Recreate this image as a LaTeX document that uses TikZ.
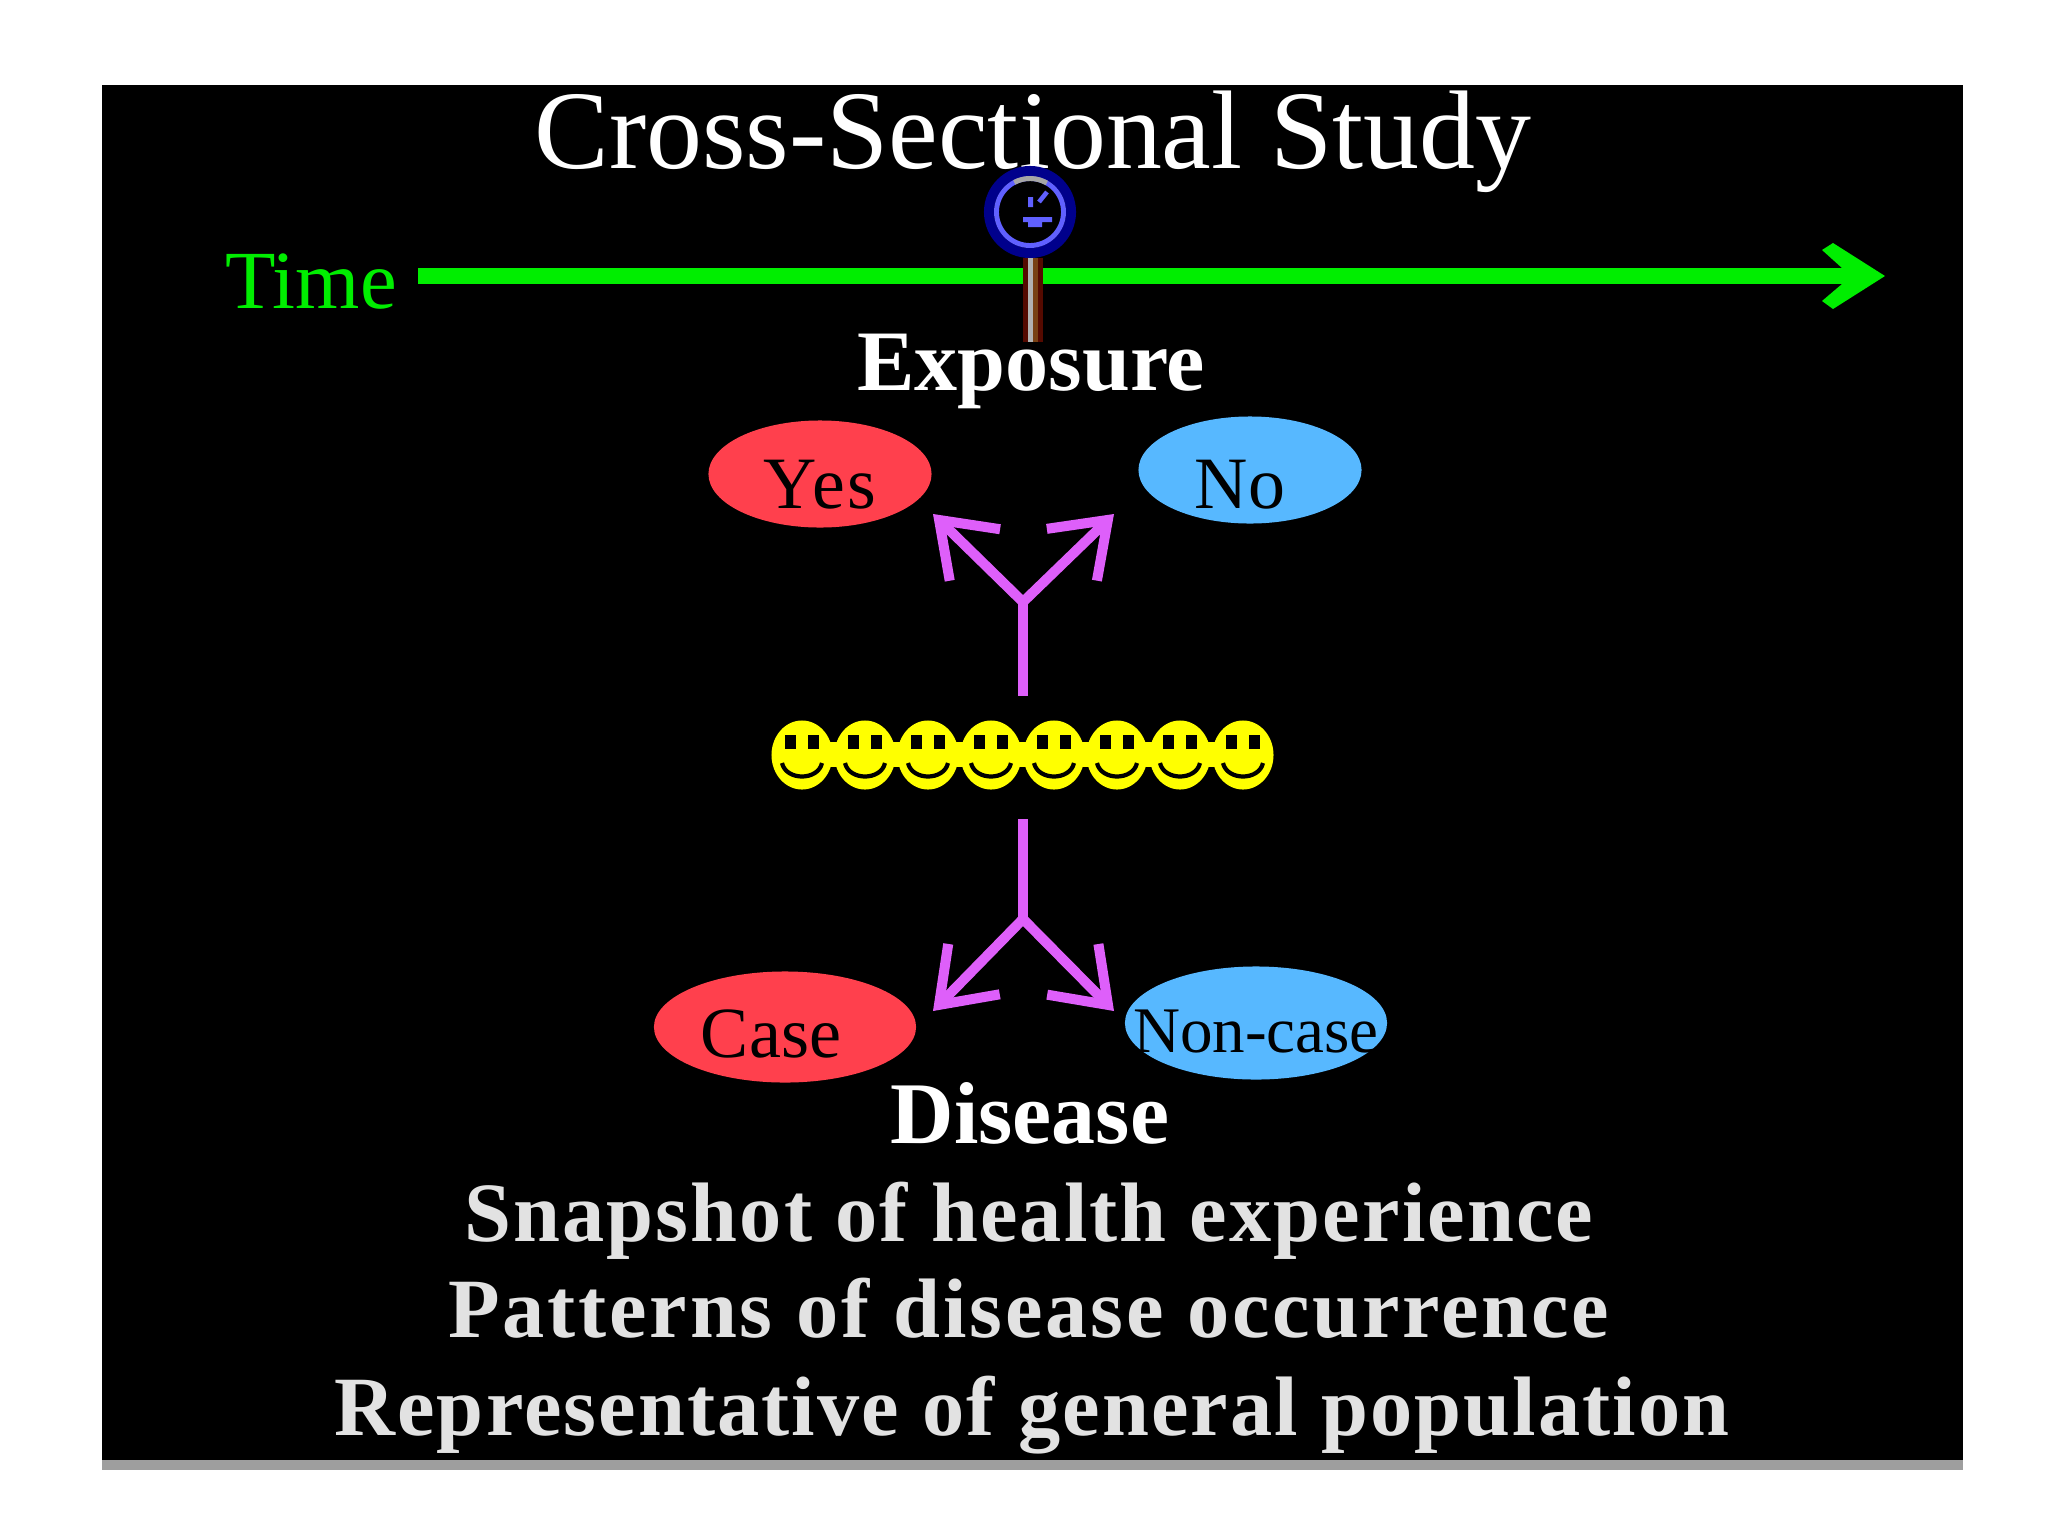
\documentclass[tikz,border=0pt]{standalone}
\usepackage{fontspec}
\setmainfont{Liberation Serif}
\usetikzlibrary{positioning,shapes.geometric,arrows.meta}
\definecolor{PinkLine}{RGB}{222,95,250}
\definecolor{RedOval}{RGB}{255,64,77}
\definecolor{BlueOval}{RGB}{87,184,255}
\definecolor{TimeGreen}{RGB}{0,238,0}
\definecolor{SoftWhite}{RGB}{226,226,226}
\definecolor{FaceYellow}{RGB}{255,255,0}
\definecolor{PinNavy}{RGB}{0,0,140}
\definecolor{PinBlue}{RGB}{96,96,255}
\definecolor{PinRed}{RGB}{85,10,0}
\definecolor{PinBrown}{RGB}{120,65,20}

\begin{document}
\begin{tikzpicture}[
            x=0.01cm, y=-0.01cm,
            RED/.style={ellipse, fill=RedOval, inner sep=0, minimum width=2.23cm, minimum height=1.07cm},
            BLUE/.style={ellipse, fill=BlueOval, inner sep=0, minimum width=2.23cm, minimum height=1.07cm},
            LABEL/.style={anchor=base, inner sep=0, text=black, font=\fontsize{20.5}{20.5}\selectfont},
            HEAD/.style={anchor=base, text=white, inner sep=0, font=\fontsize{24.5}{24.5}\selectfont\bfseries},
            NOTE/.style={anchor=base, text=SoftWhite, inner sep=0, font=\fontsize{24}{24}\selectfont\bfseries\addfontfeatures{LetterSpace=2.5}},
            PINK/.style={draw=PinkLine, line width=2.85pt},
            PINKTIP/.style={PINK, -{Straight Barb[length=0.5cm,width=0.72cm]}},
            FACE/.style={ellipse, fill=FaceYellow, inner sep=0, minimum width=0.61cm, minimum height=0.69cm},
        ]
        \useasboundingbox (0,0) rectangle (2048,1536);
        \fill[black] (102,85) rectangle (1963,1460);
        \fill[black!38] (102,1460) rectangle (1963,1470);

        \node[anchor=base, text=white, inner sep=0, font=\fontsize{31.8}{31.8}\selectfont] (Title) at (1033,168) {Cross-Sectional Study};

        % time line
        \node[anchor=base, text=TimeGreen, inner sep=0, font=\fontsize{23.5}{23.5}\selectfont] (Time) at (311,308) {Time};
        \coordinate (TimeStart) at (418,276);
        \coordinate (TimeEnd) at (1885,276);
        \draw[TimeGreen, line width=4.3pt] (TimeStart) -- (1850,276);
        \fill[TimeGreen] (1822,250) -- (1833,243) -- (TimeEnd) -- (1833,309) -- (1822,301) -- (1842,284) -- (1842,268) -- cycle;

        % pin
        \node[circle, draw=PinNavy, fill=black, line width=2.85pt, minimum size=0.82cm, inner sep=0] (Pin) at (1030,212) {};
        \draw[PinBlue, line width=1.4pt] (Pin) circle (0.335cm);
        \draw[black!35, line width=1.4pt] ([shift={(1030,212)}]-60:33.5) arc (-60:-118:33.5);
        \fill[PinBlue] (1028,197) rectangle (1033,207) (1023,217) rectangle (1052,222) (1028,222) rectangle (1042,227);
        \draw[PinBlue, line width=1.3pt] (1039,202) -- (1047,192);
        \fill[PinRed] (1023,258) rectangle (1043,342);
        \fill[black!30] (1028,258) rectangle (1033,342);
        \fill[PinBrown] (1033,258) rectangle (1038,342);

        \node[HEAD] (Exposure) at (1031,390) {Exposure};

        % exposure ovals
        \node[RED]  (Yes) at (820,474) {};
        \node[BLUE] (No)  at (1250,470) {};
        \node[LABEL, font=\fontsize{21}{21}\selectfont\addfontfeatures{LetterSpace=4}] (YesText) at (820,508) {Yes};
        \node[LABEL, font=\fontsize{21}{21}\selectfont] (NoText) at (1240,508) {No};

        % faces
        \fill[FaceYellow] (802,742) rectangle (1243,767);
        \foreach \i in {0,...,7} {
            \node[FACE] (Face\i) at (802+63*\i,755) {};
            \fill[black] ([shift={(-17,-20)}]Face\i.center) rectangle +(11,14);
            \fill[black] ([shift={(6,-20)}]Face\i.center) rectangle +(11,14);
            \draw[black, line width=1.2pt] ([shift={(-20,8)}]Face\i.center) .. controls +(4,18) and +(-4,18) .. ([shift={(20,8)}]Face\i.center);
        }

        % upper fork
        \coordinate (UpStem) at (1023,696);
        \coordinate (UpFork) at (1023,602);
        \coordinate (YesTip) at (933,514);
        \coordinate (NoTip) at (1114,514);
        \draw[PINK] (UpStem) -- (UpFork);
        \draw[PINKTIP] (UpFork) -- (YesTip);
        \draw[PINKTIP] (UpFork) -- (NoTip);

        % lower fork
        \coordinate (DownStem) at (1023,819);
        \coordinate (DownFork) at (1023,919);
        \coordinate (CaseTip) at (933,1011);
        \coordinate (NonCaseTip) at (1114,1011);
        \draw[PINK] (DownStem) -- (DownFork);
        \draw[PINKTIP] (DownFork) -- (CaseTip);
        \draw[PINKTIP] (DownFork) -- (NonCaseTip);

        % disease ovals
        \node[RED, minimum width=2.62cm, minimum height=1.11cm]  (Case) at (785,1027) {};
        \node[BLUE, minimum width=2.62cm, minimum height=1.13cm] (NonCase) at (1256,1023) {};
        \node[LABEL] (CaseText) at (771,1057) {Case};
        \node[LABEL, font=\fontsize{18.5}{18.5}\selectfont] (NonCaseText) at (1256,1052) {Non-case};

        \node[HEAD, font=\fontsize{25}{25}\selectfont\bfseries] (Disease) at (1030,1143) {Disease};

        \node[NOTE] (NoteA) at (1029,1241) {Snapshot of health experience};
        \node[NOTE, font=\fontsize{24}{24}\selectfont\bfseries\addfontfeatures{LetterSpace=3.3}] (NoteB) at (1029,1337) {Patterns of disease occurrence};
        \node[NOTE] (NoteC) at (1032,1435) {Representative of general population};
    \end{tikzpicture}
\end{document}
